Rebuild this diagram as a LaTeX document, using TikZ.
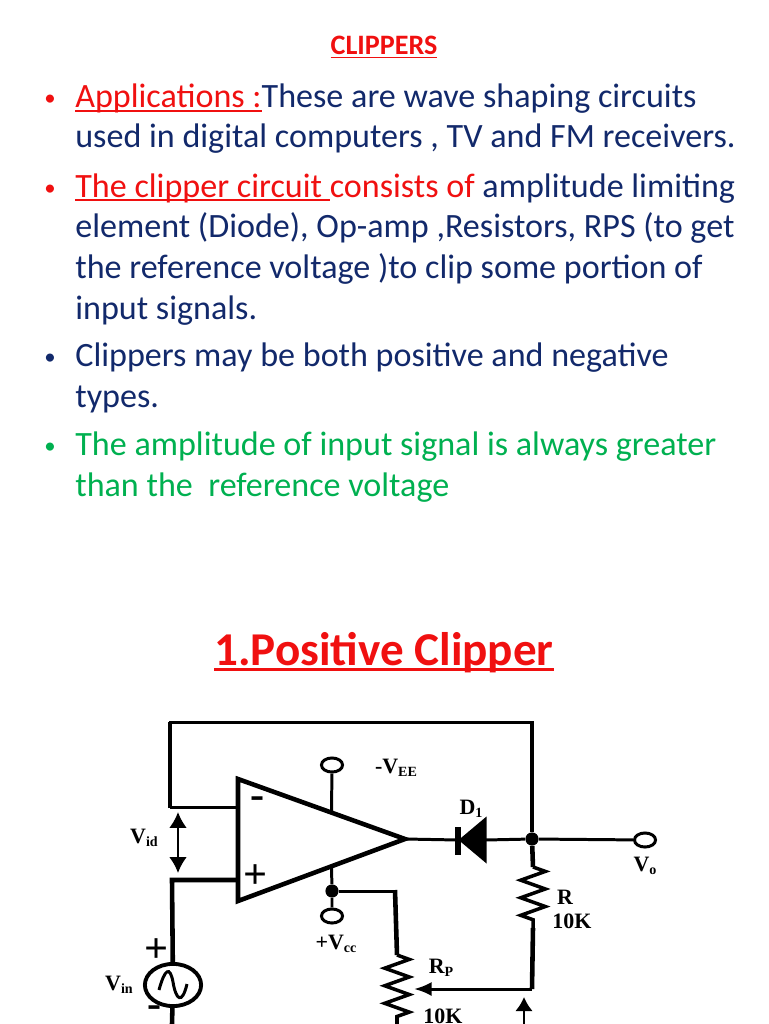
\documentclass[tikz,border=0pt]{standalone}
\usepackage{fontspec}
\setmainfont{Carlito}
\newfontfamily\labelfont{Liberation Serif}[BoldFont={Liberation Serif Bold}]
\usetikzlibrary{positioning, calc, arrows.meta, shapes.geometric, decorations.pathmorphing}
\definecolor{navy}{HTML}{12296B}
\definecolor{clipred}{HTML}{F01010}
\definecolor{clipgreen}{HTML}{00B050}
\newcommand{\uline}[1]{\setbox0\hbox{#1}\rlap{\rule[-0.12em]{\wd0}{0.05em}}\box0}
\newcommand{\sub}[1]{\raisebox{-0.25ex}{\fontsize{8}{8}\selectfont #1}}
\begin{document}
\begin{tikzpicture}[x=0.02cm,y=-0.02cm,
	line/.style={anchor=base west, font=\fontsize{19.4}{22}\selectfont, inner sep=0pt, text=navy},
	dot/.style={anchor=base, font=\fontsize{13}{20}\selectfont, inner sep=0pt},
	wire/.style={draw, line width=2.6pt},
	thin wire/.style={draw, line width=1.7pt},
	terminal/.style={shape=ellipse, draw, line width=1.7pt, fill=white, minimum width=12pt, minimum height=8pt, inner sep=0pt},
	junction/.style={shape=circle, fill, minimum size=7.5pt, inner sep=0pt},
	part/.style={font=\labelfont\bfseries\fontsize{12.5}{14}\selectfont, inner sep=0pt},
	sign/.style={font=\labelfont\bfseries\fontsize{24}{24}\selectfont, inner sep=0pt},
	zig/.style={decorate, decoration={zigzag, segment length=10pt, amplitude=7pt}, line width=2pt}]
\useasboundingbox (0,0) rectangle (768,1024);
\node[anchor=base, inner sep=0pt, text=clipred, font=\fontsize{16}{18}\selectfont\bfseries] (title) at (384,55) {\uline{CLIPPERS}};
\foreach \y/\col in {108/clipred, 197/clipred, 366/navy, 455/clipgreen} {
	\node[dot, text=\col] (bullet \y) at (50,\y-2) {•};
}
\node[line] (l1) at (75,108) {\textcolor{clipred}{\uline{Applications :}}These are wave shaping circuits};
\node[line] (l2) at (75,148) {used in digital computers , TV and FM receivers.};
\node[line] (l3) at (75,197) {\textcolor{clipred}{\uline{The clipper circuit }consists of }amplitude limiting};
\node[line] (l4) at (75,237) {element (Diode), Op-amp ,Resistors, RPS (to get};
\node[line] (l5) at (75,278) {the reference voltage )to clip some portion of};
\node[line] (l6) at (75,319) {input signals.};
\node[line] (l7) at (75,366) {Clippers may be both positive and negative};
\node[line] (l8) at (75,407) {types.};
\node[line, text=clipgreen] (l9) at (75,455) {The amplitude of input signal is always greater};
\node[line, text=clipgreen] (l10) at (75,496) {than the\ \ reference voltage};
\node[anchor=base, inner sep=0pt, text=clipred, font=\fontsize{26.8}{30}\selectfont\bfseries] (heading) at (384,665) {\uline{1.Positive Clipper}};

% op-amp and its supply pins
\coordinate (a top) at (238,779);
\coordinate (a bottom) at (238,901);
\coordinate (a out) at (405,839);
\draw[line width=2.6pt, line join=miter] (a top) -- (a out) -- (a bottom) -- cycle;
\node[terminal] (vee) at (332,765) {};
\node[terminal] (vcc) at (332,916) {};
\node[junction] (j vcc) at (332,891) {};
\node[junction] (j out) at (532,839) {};
\node[terminal] (vo) at (645,840) {};
\draw[thin wire] (vee) -- ($(a top)!0.56!(a out)$);
\draw[thin wire] ($(a bottom)!0.56!(a out)$) -- (j vcc) -- (vcc);

% feedback and input wires
\coordinate (fb) at (238,807);
\coordinate (in) at (238,880);
\node[shape=ellipse, draw, line width=2.2pt, minimum width=32pt, minimum height=24pt, inner sep=0pt] (src) at (173,985) {};
\draw[thin wire] (fb) -- (170,807);
\draw[wire] (170,808) -- (170,722);
\draw[thin wire] (169,722) -- (533,722);
\draw[wire] (532,721) -- (j out);
\draw[wire] (in) -- (172,880) -- (src);
\draw[wire] (src) -- (172,1024);
\draw[line width=1.7pt] (159,990) .. controls (165,968) and (170,966) .. (173,982) .. controls (176,1000) and (182,1005) .. (187,984);

% diode
\coordinate (d a) at (485,840);
\node[shape=isosceles triangle, shape border rotate=180, isosceles triangle apex angle=80, fill, minimum height=16pt, minimum width=14pt, inner sep=0pt, anchor=apex] (diode) at (458,840) {};
\draw[line width=3pt] (458,827) coordinate (bar top) -- (458,855) coordinate (bar bottom);
\draw[thin wire] (a out) -- (458,840);
\draw[thin wire] (d a) -- (j out);
\draw[thin wire] (j out) -- (vo);

% resistors
\coordinate (r top) at (533,867);
\coordinate (r bottom) at (533,928);
\coordinate (rp top) at (397,955);
\coordinate (rp bottom) at (397,1024);
\coordinate (tap) at (532,989);
\draw[wire] (j out) -- (r top);
\draw[zig] (r top) -- (r bottom);
\draw[wire] (r bottom) -- (tap);
\draw[thin wire] (j vcc) -- (396,891);
\draw[wire] (395,890) -- (rp top);
\draw[zig] (rp top) -- (rp bottom);
\draw[thin wire, -{Latex[length=10pt,width=8pt]}] (tap) -- (414,989);

% arrows
\coordinate (vid top) at (178,812);
\coordinate (vid bottom) at (178,873);
\draw[line width=1.2pt, {Latex[length=9pt,width=10pt]}-{Latex[length=9pt,width=10pt]}] (vid top) -- (vid bottom);
\coordinate (up tip) at (524,997);
\coordinate (up tail) at (524,1024);
\draw[line width=1.2pt, -{Latex[length=8pt,width=10pt]}] (up tail) -- (up tip);

% labels
\node[sign] (minus) at (258,803) {-};
\node[sign] (plus) at (256,877) {+};
\node[sign] (src plus) at (157,951) {+};
\node[sign] (src minus) at (155,1012) {-};
\node[part] (vee text) at (396,768) {-V\sub{EE}};
\node[part] (vcc text) at (336,944) {+V\sub{cc}};
\node[part] (vid text) at (144,838) {V\sub{id}};
\node[part] (vin text) at (119,985) {V\sub{in}};
\node[part] (d text) at (471,809) {D\sub{1}};
\node[part] (vo text) at (645,866) {V\sub{o}};
\node[part] (r text) at (565,897) {R};
\node[part] (r value) at (572,921) {10K};
\node[part] (rp text) at (441,968) {R\sub{P}};
\node[part] (rp value) at (443,1016) {10K};
\end{tikzpicture}
\end{document}
